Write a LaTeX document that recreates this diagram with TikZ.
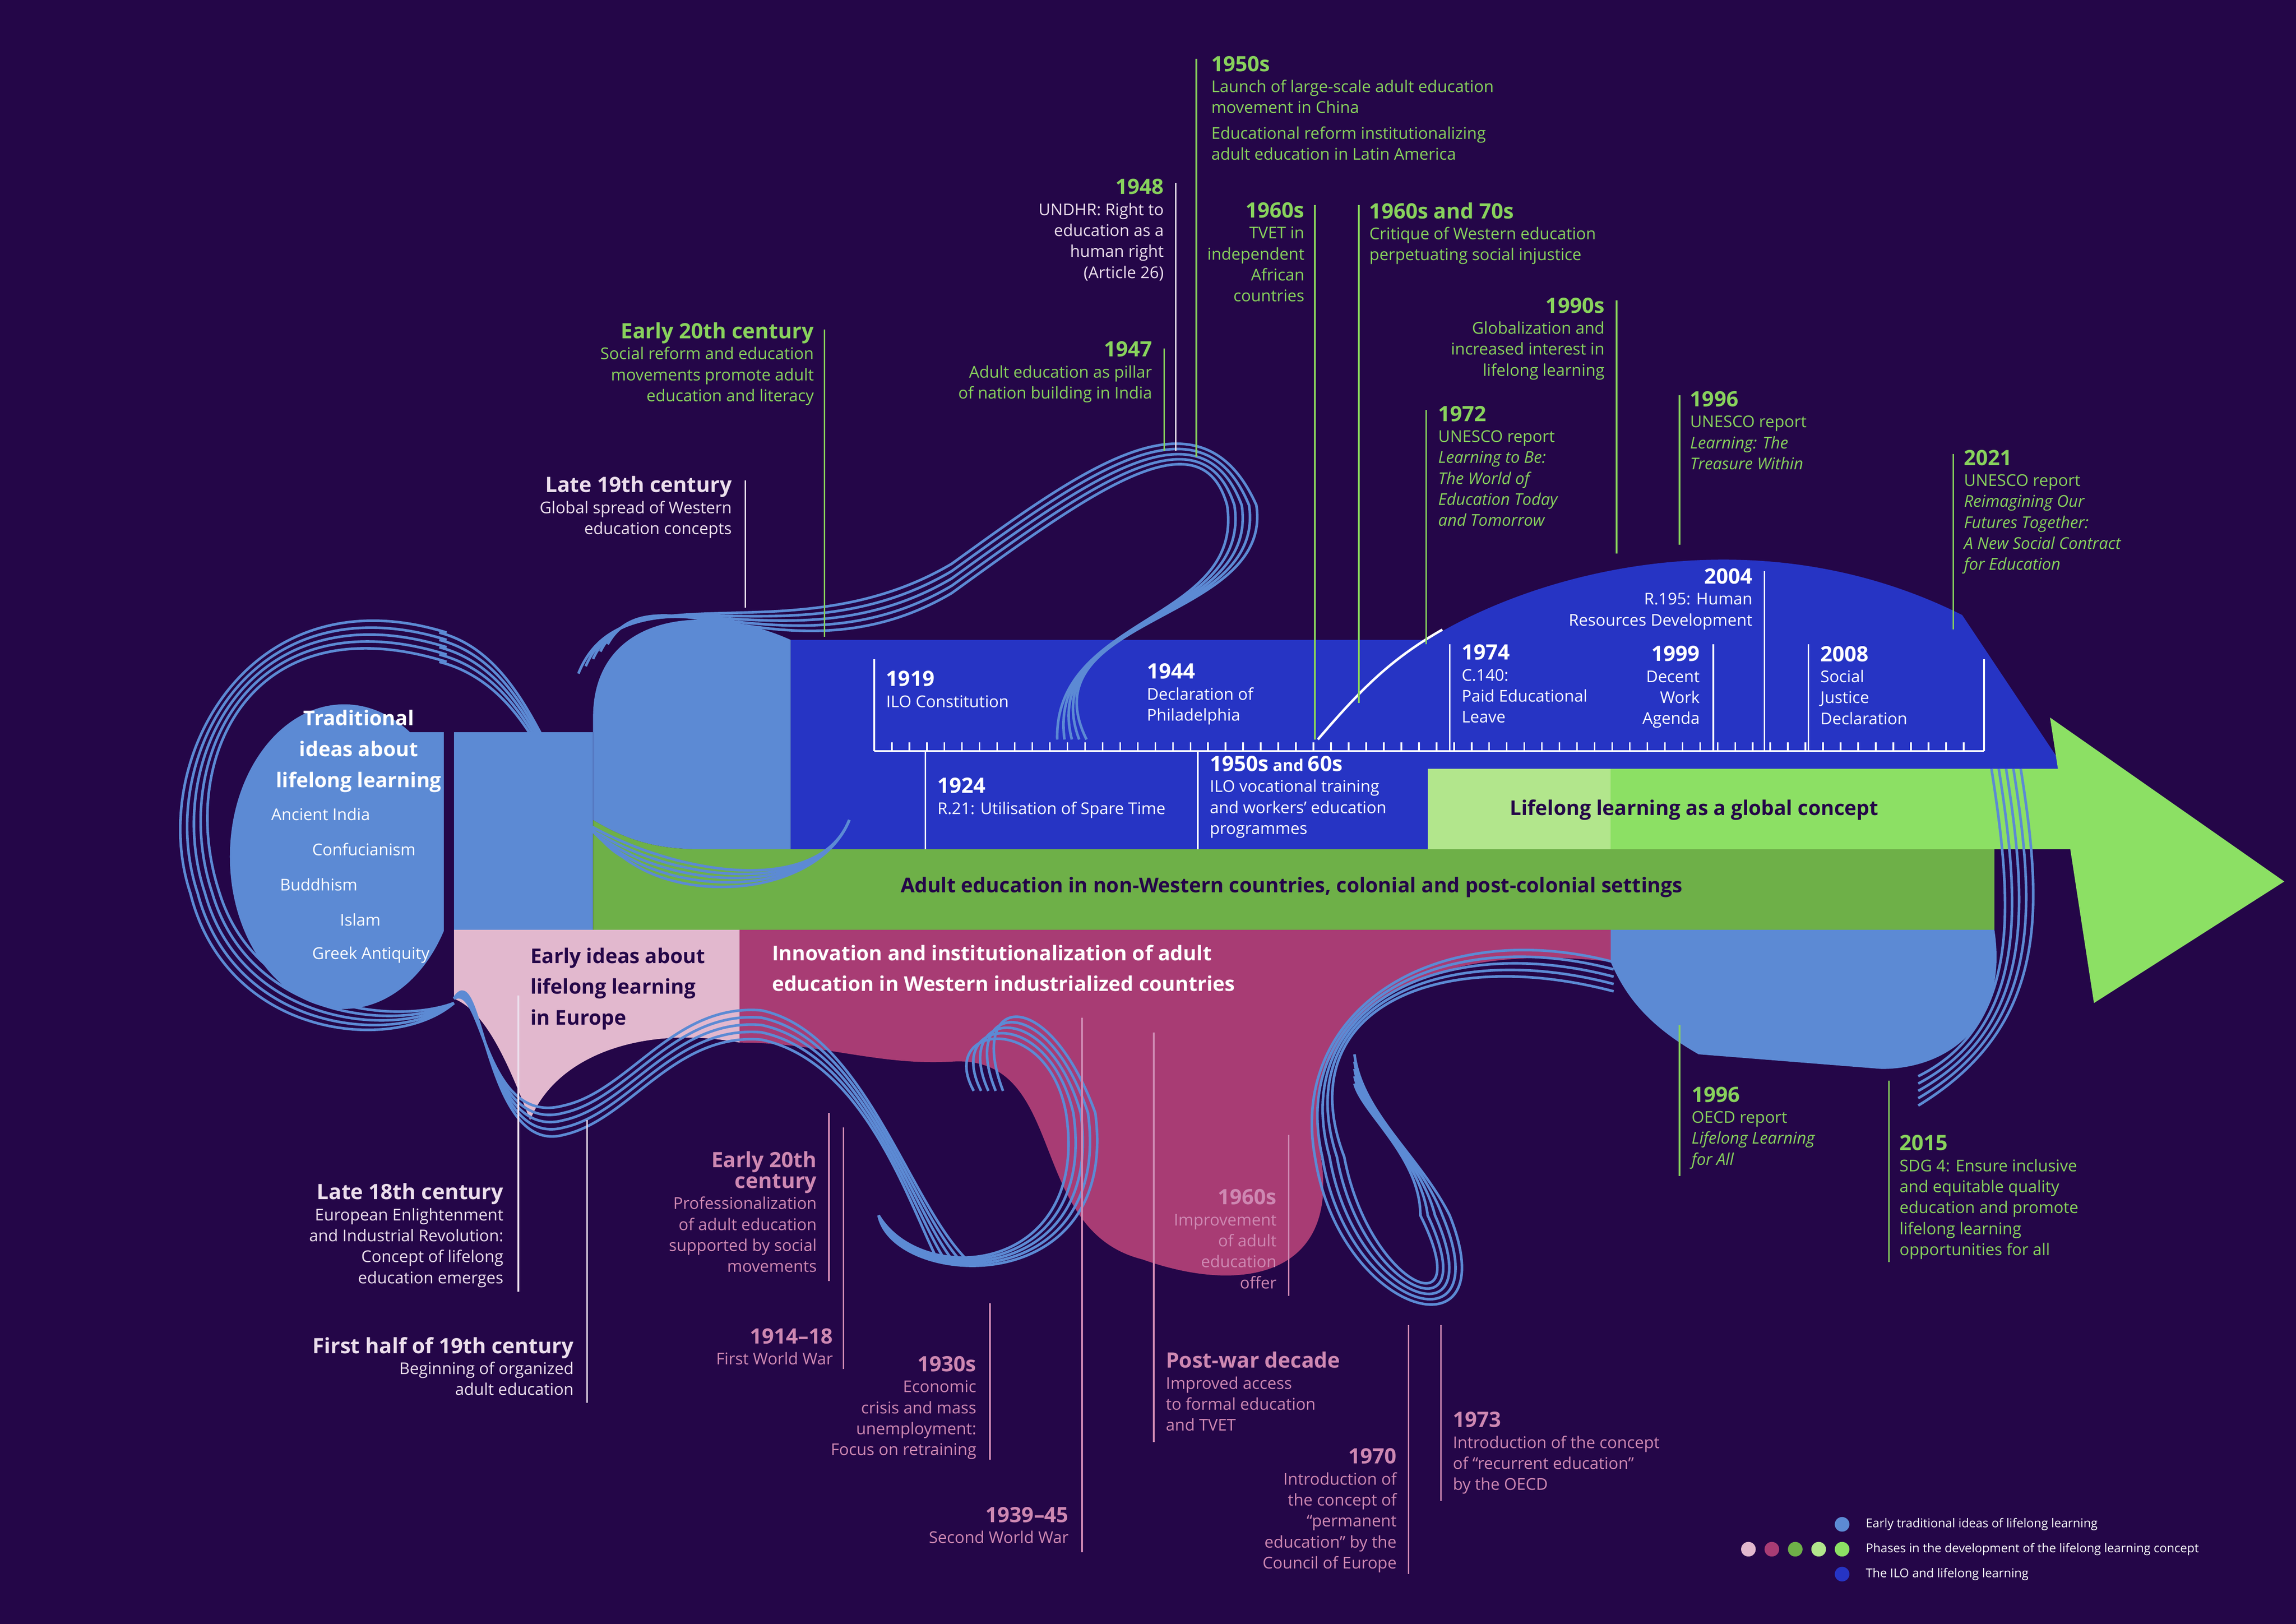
\documentclass[tikz,border=0pt]{standalone}
\usepackage{fontspec}
\setmainfont{Open Sans}
\usetikzlibrary{positioning,calc}
\definecolor{bgpurple}{RGB}{36,6,72}
\definecolor{lblue}{RGB}{92,138,212}
\definecolor{rblue}{RGB}{38,52,196}
\definecolor{agreen}{RGB}{110,176,72}
\definecolor{llgreen}{RGB}{178,230,140}
\definecolor{bgreen}{RGB}{140,224,100}
\definecolor{magen}{RGB}{168,60,116}
\definecolor{lpink}{RGB}{226,184,206}
\definecolor{gtext}{RGB}{136,210,92}
\definecolor{ptext}{RGB}{206,136,178}
\definecolor{wtext}{RGB}{236,222,236}
\tikzset{
  txt/.style={inner sep=0pt, font=\fontsize{10}{12.9}\selectfont},
  lab/.style={txt, align=right, anchor=north east},
  labl/.style={txt, align=left, anchor=north west},
  gline/.style={draw=gtext, line width=1pt},
  pline/.style={draw=ptext, line width=1pt},
  wline/.style={draw=white, line width=1pt},
  swirl/.style={draw=lblue, line width=1.6pt},
  band/.style={inner sep=0pt, font=\fontsize{12.5}{15.5}\selectfont\bfseries},
  dot/.style={circle, inner sep=0pt, minimum size=9pt}
}
\newcommand{\yr}[1]{\textbf{\fontsize{13}{15}\selectfont #1}}
\begin{document}
\begin{tikzpicture}[x=0.03164cm, y=-0.03164cm]
\useasboundingbox (0,0) rectangle (1568,1109);
\fill[bgpurple] (0,0) rectangle (1568,1109);

% coloured areas
\fill[lblue] (235,585) ellipse [x radius=78, y radius=104];
\fill[lblue] (280,500) rectangle (405,635);
\fill[lblue] (405,490) .. controls (405,420) and (480,410) .. (540,437) -- (540,580) -- (480,580)
  .. controls (450,580) and (430,575) .. (405,560) -- cycle;
\fill[rblue] (540,437) -- (975,437) .. controls (1050,390) and (1200,350) .. (1340,420)
  -- (1410,525) -- (975,525) -- (975,580) -- (540,580) -- cycle;
\fill[agreen] (405,560) .. controls (430,575) and (450,580) .. (480,580) -- (1362,580) -- (1362,635) -- (405,635) -- cycle;
\fill[llgreen] (975,525) rectangle (1100,580);
\fill[bgreen] (1100,525) rectangle (1425,580);
\fill[bgreen] (1400,490) -- (1560,602) -- (1430,685) -- cycle;
\fill[lpink] (310,635) -- (505,635) -- (505,712) .. controls (440,700) and (380,720) .. (362,765)
  .. controls (345,720) and (330,690) .. (310,682) -- cycle;
\fill[magen] (505,635) -- (1102,635) -- (1102,657) .. controls (960,640) and (885,700) .. (902,790)
  .. controls (915,870) and (850,885) .. (780,860) .. controls (700,840) and (730,720) .. (650,725)
  .. controls (600,728) and (560,712) .. (505,712) -- cycle;
\fill[lblue] (1100,635) -- (1362,635) .. controls (1372,700) and (1330,730) .. (1285,730)
  -- (1160,720) .. controls (1125,700) and (1110,680) .. (1100,657) -- cycle;
\fill[bgpurple] (303,490) rectangle (310,690);

% swirls
\foreach \d in {0,5,10,15,20}{
  \draw[swirl] (305,452-\d) .. controls (170,410-\d) and (120-\d,520) .. (150-\d,610)
    .. controls (175-\d,690+\d) and (270,700+\d) .. (310,685);
  \draw[swirl] (300,452-\d) .. controls (370,470-\d) and (380,560) .. (405+\d,565+\d)
    .. controls (470,600+\d) and (560,610) .. (580,560);
  \draw[swirl] (415-\d,440+\d) .. controls (445-\d,385) and (540,470-\d) .. (650,405-\d)
    .. controls (740,340-\d) and (820,280-\d) .. (838+\d,345)
    .. controls (850+\d,425) and (720-\d,420) .. (722+\d,505);
  \draw[swirl] (310,682) .. controls (330,650+\d) and (330,790-\d) .. (385,775-\d)
    .. controls (430,765-\d) and (460,705-\d) .. (520,710-\d)
    .. controls (590,725-\d) and (620,820) .. (640+\d,860);
  \draw[swirl] (665+\d,745) .. controls (640+\d,700-\d) and (715,690-\d) .. (728+\d,760)
    .. controls (745+\d,870+\d) and (630-\d,880) .. (600,830);
  \draw[swirl] (1102,657+\d) .. controls (980,625+\d) and (880,690) .. (898+\d,790)
    .. controls (915+\d,900-\d) and (1030-\d,930-\d) .. (990-\d,830)
    .. controls (970,790) and (930,760) .. (925,720+\d);
  \draw[swirl] (1360+\d,525) .. controls (1375+\d,620) and (1380+\d,700) .. (1310,735+\d);
}
\draw[draw=white, line width=1.5pt] (900,505) .. controls (930,470) and (950,450) .. (985,430);

% ILO axis
\draw[wline] (597,513) -- (1355,513);
\foreach \x in {609,621,...,1350} \draw[wline] (\x,513) -- (\x,507);
\draw[wline] (597,450) -- (597,513);
\draw[wline] (1355,450) -- (1355,513);
\draw[wline] (632,513) -- (632,580);
\draw[wline] (818,513) -- (818,580);
\draw[wline] (990,440) -- (990,513);
\draw[wline] (1170,440) -- (1170,513);
\draw[wline] (1205,390) -- (1205,513);
\draw[wline] (1235,440) -- (1235,513);
\node[labl, white] (y1919) at (605,458) {\yr{1919}\\ILO Constitution};
\node[labl, white] (y1944) at (783,453) {\yr{1944}\\Declaration of\\Philadelphia};
\node[labl, white] (y1974) at (998,440) {\yr{1974}\\C.140:\\Paid Educational\\Leave};
\node[lab, white] (y1999) at (1161,441) {\yr{1999}\\Decent\\Work\\Agenda};
\node[lab, white] (y2004) at (1197,388) {\yr{2004}\\R.195: Human\\Resources Development};
\node[labl, white] (y2008) at (1243,441) {\yr{2008}\\Social\\Justice\\Declaration};
\node[labl, white] (y1924) at (640,531) {\yr{1924}\\R.21: Utilisation of Spare Time};
\node[labl, white] (y1950) at (826,516) {\yr{1950s} \textbf{and} \yr{60s}\\ILO vocational training\\and workers' education\\programmes};

% band titles
\node[band, bgpurple] (global) at (1157,553) {Lifelong learning as a global concept};
\node[band, bgpurple] (nonwest) at (882,606) {Adult education in non-Western countries, colonial and post-colonial settings};
\node[band, white, align=left, anchor=north west, font=\fontsize{12.5}{19}\selectfont\bfseries] (innov) at (527,645) {Innovation and institutionalization of adult\\education in Western industrialized countries};
\node[band, bgpurple, align=left, anchor=north west, font=\fontsize{12.5}{19}\selectfont\bfseries] (early) at (362,647) {Early ideas about\\lifelong learning\\in Europe};
\node[band, white, align=center, font=\fontsize{12.5}{19}\selectfont\bfseries] (trad) at (245,513) {Traditional\\ideas about\\lifelong learning};
\node[txt, white, anchor=west] (india) at (185,556) {Ancient India};
\node[txt, white, anchor=west] (conf) at (213,580) {Confucianism};
\node[txt, white, anchor=west] (budd) at (191,604) {Buddhism};
\node[txt, white, anchor=west] (islam) at (232,628) {Islam};
\node[txt, white, anchor=west] (greek) at (213,652) {Greek Antiquity};

% upper labels
\draw[gline] (563,225) -- (563,435);
\node[lab, gtext] (e20) at (556,220) {\yr{Early 20th century}\\Social reform and education\\movements promote adult\\education and literacy};
\draw[draw=wtext, line width=1pt] (509,328) -- (509,415);
\node[lab, wtext] (l19) at (500,325) {\yr{Late 19th century}\\Global spread of Western\\education concepts};
\draw[gline] (795,238) -- (795,308);
\node[lab, gtext] (y1947) at (787,233) {\yr{1947}\\Adult education as pillar\\of nation building in India};
\draw[draw=wtext, line width=1pt] (803,125) -- (803,308);
\node[lab, wtext] (y1948) at (795,122) {\textcolor{gtext}{\yr{1948}}\\UNDHR: Right to\\education as a\\human right\\(Article 26)};
\draw[gline] (817,40) -- (817,312);
\node[labl, gtext] (y1950s) at (827,38) {\yr{1950s}\\Launch of large-scale adult education\\movement in China\\[3pt]Educational reform institutionalizing\\adult education in Latin America};
\draw[gline] (898,140) -- (898,505);
\node[lab, gtext] (y1960s) at (891,138) {\yr{1960s}\\TVET in\\independent\\African\\countries};
\draw[gline] (928,140) -- (928,480);
\node[labl, gtext] (y6070) at (935,138) {\yr{1960s and 70s}\\Critique of Western education\\perpetuating social injustice};
\draw[gline] (1104,205) -- (1104,378);
\node[lab, gtext] (y1990) at (1096,203) {\yr{1990s}\\Globalization and\\increased interest in\\lifelong learning};
\draw[gline] (974,280) -- (974,440);
\node[labl, gtext] (y1972) at (982,277) {\yr{1972}\\UNESCO report\\\textit{Learning to Be:}\\\textit{The World of}\\\textit{Education Today}\\\textit{and Tomorrow}};
\draw[gline] (1147,270) -- (1147,372);
\node[labl, gtext] (y1996u) at (1154,267) {\yr{1996}\\UNESCO report\\\textit{Learning: The}\\\textit{Treasure Within}};
\draw[gline] (1334,310) -- (1334,430);
\node[labl, gtext] (y2021) at (1341,307) {\yr{2021}\\UNESCO report\\\textit{Reimagining Our}\\\textit{Futures Together:}\\\textit{A New Social Contract}\\\textit{for Education}};

% lower labels
\draw[draw=wtext, line width=1pt] (354,680) -- (354,882);
\node[lab, wtext] (l18) at (344,808) {\yr{Late 18th century}\\European Enlightenment\\and Industrial Revolution:\\Concept of lifelong\\education emerges};
\draw[draw=wtext, line width=1pt] (401,765) -- (401,958);
\node[lab, wtext] (f19) at (392,913) {\yr{First half of 19th century}\\Beginning of organized\\adult education};
\draw[pline] (566,760) -- (566,875);
\node[lab, ptext] (e20p) at (558,786) {\yr{Early 20th}\\\yr{century}\\Professionalization\\of adult education\\supported by social\\movements};
\draw[pline] (576,770) -- (576,935);
\node[lab, ptext] (y1914) at (569,907) {\yr{1914–18}\\First World War};
\draw[pline] (676,890) -- (676,997);
\node[lab, ptext] (y1930) at (667,926) {\yr{1930s}\\Economic\\crisis and mass\\unemployment:\\Focus on retraining};
\draw[pline] (739,695) -- (739,1060);
\node[lab, ptext] (y1939) at (730,1029) {\yr{1939–45}\\Second World War};
\draw[pline] (880,775) -- (880,885);
\node[lab, ptext] (y1960p) at (872,812) {\yr{1960s}\\Improvement\\of adult\\education\\offer};
\draw[pline] (788,705) -- (788,985);
\node[labl, ptext] (postwar) at (796,923) {\yr{Post-war decade}\\Improved access\\to formal education\\and TVET};
\draw[pline] (962,905) -- (962,1075);
\node[lab, ptext] (y1970) at (954,989) {\yr{1970}\\Introduction of\\the concept of\\“permanent\\education” by the\\Council of Europe};
\draw[pline] (984,905) -- (984,1025);
\node[labl, ptext] (y1973) at (992,964) {\yr{1973}\\Introduction of the concept\\of “recurrent education”\\by the OECD};
\draw[gline] (1147,700) -- (1147,803);
\node[labl, gtext] (y1996o) at (1155,742) {\yr{1996}\\OECD report\\\textit{Lifelong Learning}\\\textit{for All}};
\draw[gline] (1290,738) -- (1290,862);
\node[labl, gtext] (y2015) at (1297,775) {\yr{2015}\\SDG 4: Ensure inclusive\\and equitable quality\\education and promote\\lifelong learning\\opportunities for all};

% legend
\node[dot, fill=lblue] (k1) at (1258,1041) {};
\node[dot, fill=bgreen] (k2) at (1258,1058) {};
\node[dot, fill=llgreen, left=5pt of k2] (k3) {};
\node[dot, fill=agreen, left=5pt of k3] (k4) {};
\node[dot, fill=magen, left=5pt of k4] (k5) {};
\node[dot, fill=lpink, left=5pt of k5] (k6) {};
\node[dot, fill=rblue] (k7) at (1258,1075) {};
\node[txt, white, anchor=west, font=\fontsize{7.5}{9}\selectfont] at (1274,1041) {Early traditional ideas of lifelong learning};
\node[txt, white, anchor=west, font=\fontsize{7.5}{9}\selectfont] at (1274,1058) {Phases in the development of the lifelong learning concept};
\node[txt, white, anchor=west, font=\fontsize{7.5}{9}\selectfont] at (1274,1075) {The ILO and lifelong learning};
\end{tikzpicture}
\end{document}
